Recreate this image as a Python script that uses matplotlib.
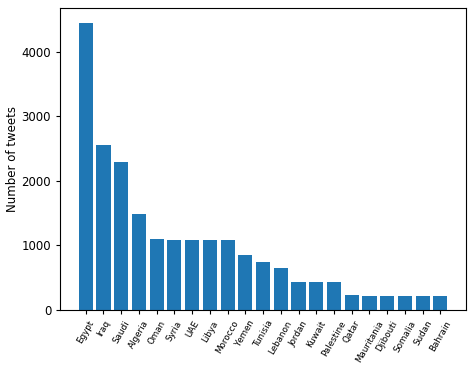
import matplotlib
matplotlib.use("Agg")
import matplotlib.pyplot as plt

countries = ["Egypt", "Iraq", "Saudi", "Algeria", "Oman", "Syria", "UAE", "Libya",
             "Morocco", "Yemen", "Tunisia", "Lebanon", "Jordan", "Kuwait", "Palestine",
             "Qatar", "Mauritania", "Djibouti", "Somalia", "Sudan", "Bahrain"]
tweets = [4455, 2553, 2300, 1494, 1100, 1080, 1080, 1080, 1080, 848, 744, 646,
          429, 429, 429, 238, 217, 217, 217, 217, 217]

fig, ax = plt.subplots(figsize=(4.74, 3.72), dpi=100)
ax.bar(countries, tweets, color="#1f77b4")
ax.set_ylabel("Number of tweets", fontsize=8.5, labelpad=2)
ax.tick_params(axis="y", labelsize=8.5, length=3)
ax.tick_params(axis="x", length=3)
plt.xticks(rotation=60, fontsize=6.3)
fig.subplots_adjust(left=0.127, right=0.983, top=0.978, bottom=0.167)
fig.savefig("out.png")
